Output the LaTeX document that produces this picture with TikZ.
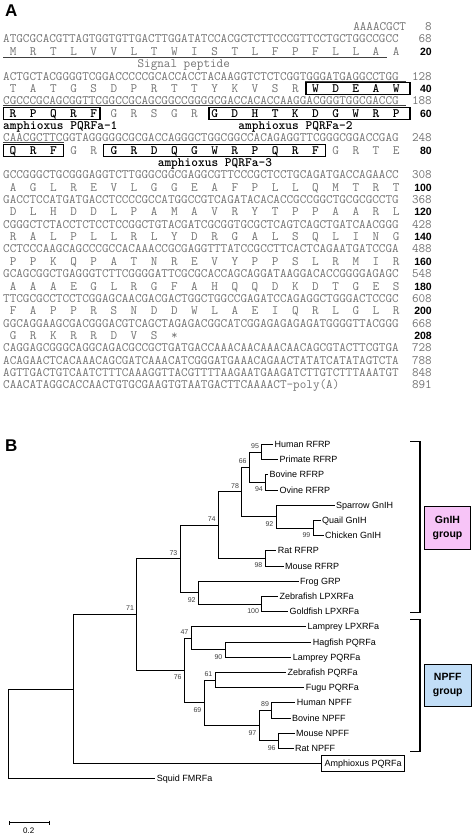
\documentclass[tikz,border=0pt]{standalone}
\usepackage{fontspec}
\setsansfont{Liberation Sans}
\usepackage{tikz}
\usetikzlibrary{arrows.meta, positioning}

\definecolor{ntgray}{gray}{0.45}
\definecolor{gnihpink}{RGB}{247,196,247}
\definecolor{npffblue}{RGB}{194,222,247}

\newcommand{\seqfont}{\ttfamily\fontsize{12.8}{14}\selectfont}
\newcommand{\leaffont}{\sffamily\fontsize{9}{10}\selectfont}
\newcommand{\bootfont}{\sffamily\fontsize{7}{8}\selectfont}

\tikzset{
  seq/.style     = {font=\seqfont, text=ntgray, inner sep=0pt,
                    text height=7.3pt, text depth=0pt},
  nt/.style      = {seq, anchor=west},
  ntnum/.style   = {seq, anchor=east},
  aa/.style      = {seq},
  pep/.style     = {seq, text=black, font=\seqfont\bfseries},
  aanum/.style   = {font=\sffamily\bfseries\fontsize{10.5}{12}\selectfont,
                    anchor=east, inner sep=0pt, text height=7.3pt, text depth=0pt},
  peplbl/.style  = {pep, anchor=west},
  pepbox/.style  = {draw=black, line width=1.3pt},
  uline/.style   = {draw=black!75, line width=0.7pt},
  panel/.style   = {font=\sffamily\bfseries\fontsize{17}{20}\selectfont,
                    anchor=north west, inner sep=0pt},
  leaf/.style    = {font=\leaffont, anchor=west, inner xsep=1.5pt, inner ysep=0pt,
                    text height=6.5pt, text depth=0pt},
  leafbox/.style = {leaf, draw, line width=1.1pt, inner xsep=3.3pt,
                    minimum height=15.3pt},
  boot/.style    = {font=\bootfont, text=black!75, inner sep=1pt},
  branch/.style  = {draw=black, line width=0.8pt},
  bracket/.style = {draw=black, line width=1.1pt},
  grpbox/.style  = {draw=black, line width=0.9pt, align=center,
                    font=\sffamily\bfseries\fontsize{10.5}{14}\selectfont},
  scalebar/.style= {{Bar[width=4pt]}-{Bar[width=4pt]}, line width=0.8pt},
}

\begin{document}
\begin{tikzpicture}[x=1pt, y=-1pt]
  \useasboundingbox (0,0) rectangle (474,837);

  % ---------- A: cDNA and deduced precursor --------------------------
  \node[panel] (pA) at (5,5) {A};

  \node[seq, anchor=east] (nt0) at (406.2,27) {AAAACGCT};
  \node[ntnum] (ntn0) at (432,27) {8};
  \foreach \k/\sq/\num in {
    1/ATGCGCACGTTAGTGGTGTTGACTTGGATATCCACGCTCTTCCCGTTCCTGCTGGCCGCC/68,
    4/ACTGCTACGGGGTCGGACCCCCGCACCACCTACAAGGTCTCTCGGTGGGATGAGGCCTGG/128,
    6/CGCCCGCAGCGGTTCGGCCGCAGCGGCCGGGGCGACCACACCAAGGACGGGTGGCGACCG/188,
    9/CAACGCTTCGGTAGGGGGCGCGACCAGGGCTGGCGGCCACAGAGGTTCGGGCGGACCGAG/248,
    12/GCCGGGCTGCGGGAGGTCTTGGGCGGCGAGGCGTTCCCGCTCCTGCAGATGACCAGAACC/308,
    14/GACCTCCATGATGACCTCCCCGCCATGGCCGTCAGATACACACCGCCGGCTGCGCGCCTG/368,
    16/CGGGCTCTACCTCTCCTCCGGCTGTACGATCGCGGTGCGCTCAGTCAGCTGATCAACGGG/428,
    18/CCTCCCAAGCAGCCCGCCACAAACCGCGAGGTTTATCCGCCTTCACTCAGAATGATCCGA/488,
    20/GCAGCGGCTGAGGGTCTTCGGGGATTCGCGCACCAGCAGGATAAGGACACCGGGGAGAGC/548,
    22/TTCGCGCCTCCTCGGAGCAACGACGACTGGCTGGCCGAGATCCAGAGGCTGGGACTCCGC/608,
    24/GGCAGGAAGCGACGGGACGTCAGCTAGAGACGGCATCGGAGAGAGAGATGGGGTTACGGG/668,
    26/CAGGAGCGGGCAGGCAGACGCCGCTGATGACCAAACAACAAACAACAGCGTACTTCGTGA/728,
    27/ACAGAACTCACAAACAGCGATCAAACATCGGGATGAAACAGAACTATATCATATAGTCTA/788,
    28/AGTTGACTGTCAATCTTTCAAAGGTTACGTTTTAAGAATGAAGATCTTGTCTTTAAATGT/848,
    29/CAACATAGGCACCAACTGTGCGAAGTGTAATGACTTCAAAACT-poly(A)/891} {
    \pgfmathsetmacro\yy{27+12.35*\k}
    \node[nt] (nt\k) at (3,\yy) {\sq};
    \node[ntnum] (ntn\k) at (432,\yy) {\num};
  }

  % amino acids, one under the middle of each codon
  \foreach \k/\num/\bA/\eA/\bB/\eB/\res in {
    2/20/-1/-1/-1/-1/{M,R,T,L,V,V,L,T,W,I,S,T,L,F,P,F,L,L,A,A},
    5/40/15/19/-1/-1/{T,A,T,G,S,D,P,R,T,T,Y,K,V,S,R,W,D,E,A,W},
    7/60/0/4/10/19/{R,P,Q,R,F,G,R,S,G,R,G,D,H,T,K,D,G,W,R,P},
    10/80/0/2/5/15/{Q,R,F,G,R,G,R,D,Q,G,W,R,P,Q,R,F,G,R,T,E},
    13/100/-1/-1/-1/-1/{A,G,L,R,E,V,L,G,G,E,A,F,P,L,L,Q,M,T,R,T},
    15/120/-1/-1/-1/-1/{D,L,H,D,D,L,P,A,M,A,V,R,Y,T,P,P,A,A,R,L},
    17/140/-1/-1/-1/-1/{R,A,L,P,L,L,R,L,Y,D,R,G,A,L,S,Q,L,I,N,G},
    19/160/-1/-1/-1/-1/{P,P,K,Q,P,A,T,N,R,E,V,Y,P,P,S,L,R,M,I,R},
    21/180/-1/-1/-1/-1/{A,A,A,E,G,L,R,G,F,A,H,Q,Q,D,K,D,T,G,E,S},
    23/200/-1/-1/-1/-1/{F,A,P,P,R,S,N,D,D,W,L,A,E,I,Q,R,L,G,L,R},
    25/208/-1/-1/-1/-1/{G,R,K,R,R,D,V,S,*}} {
    \pgfmathsetmacro\yy{27+12.35*\k}
    \foreach \r [count=\i from 0] in \res {
      \pgfmathtruncatemacro\isb{((\i>=\bA)&&(\i<=\eA))||((\i>=\bB)&&(\i<=\eB))}
      \ifnum\isb=1 \def\st{pep}\else\def\st{aa}\fi
      \node[\st] (a\k-\i) at ({3+(3*\i+1.5)*6.72},\yy) {\r};
    }
    \node[aanum] (aan\k) at (432,\yy) {\num};
  }

  % signal peptide
  \draw[uline] (3,57.7) -- (386.5,57.7);
  \node[seq, anchor=west] (sigpep) at (137.4,64) {Signal peptide};

  % underlined cDNA stretch
  \draw[uline] (305.4,81.2) -- (406.2,81.2);
  \draw[uline] (3,105.7) -- (406.2,105.7);
  \draw[uline] (3,142.7) -- (63.5,142.7);

  % peptide boxes
  \draw[pepbox] (306,82.8) rectangle (410,94.8);
  \draw[pepbox] (3.3,107.5) rectangle (100,119.5);
  \draw[pepbox] (209,107.5) rectangle (410,119.5);
  \draw[pepbox] (3.3,144.5) rectangle (63.5,156.5);
  \draw[pepbox] (103.5,144.5) rectangle (325.5,156.5);

  \node[peplbl] (pqrf1) at (3,125.8) {amphioxus PQRFa-1};
  \node[peplbl] (pqrf2) at (238.2,125.8) {amphioxus PQRFa-2};
  \node[peplbl] (pqrf3) at (157.6,163) {amphioxus PQRFa-3};

  % ---------- B: neighbour-joining tree ------------------------------
  \node[panel] (pB) at (5,440) {B};

  \foreach \nm/\lbl/\x/\st [count=\i from 0] in {
    hRFRP/Human RFRP/272.8/leaf, pRFRP/Primate RFRP/277.8/leaf,
    bRFRP/Bovine RFRP/267.8/leaf, oRFRP/Ovine RFRP/277.8/leaf,
    sGnIH/Sparrow GnIH/334.5/leaf, qGnIH/Quail GnIH/320.5/leaf,
    cGnIH/Chicken GnIH/323.5/leaf, rRFRP/Rat RFRP/276.2/leaf,
    mRFRP/Mouse RFRP/283.5/leaf, frGRP/Frog GRP/298.5/leaf,
    zLPX/Zebrafish LPXRFa/277.8/leaf, gLPX/Goldfish LPXRFa/287.8/leaf,
    lLPX/Lamprey LPXRFa/305.8/leaf, hPQ/Hagfish PQRFa/311.2/leaf,
    lPQ/Lamprey PQRFa/291.2/leaf, zPQ/Zebrafish PQRFa/285.8/leaf,
    fPQ/Fugu PQRFa/304.2/leaf, hNPFF/Human NPFF/295.2/leaf,
    bNPFF/Bovine NPFF/290.5/leaf, mNPFF/Mouse NPFF/294.5/leaf,
    rNPFF/Rat NPFF/293.5/leaf, aPQ/Amphioxus PQRFa/320.7/leafbox,
    sFMRF/Squid FMRFa/155.2/leaf} {
    \node[\st] (\nm) at (\x,{444.3+15.2*\i}) {\lbl};
  }

  % internal nodes (x of split, y of incoming branch)
  \coordinate (n95)  at (261.7,451.9);
  \coordinate (n94)  at (265.5,482.3);
  \coordinate (n66)  at (249.3,467.1);
  \coordinate (n99)  at (313.0,527.9);
  \coordinate (n92a) at (276.0,516.5);
  \coordinate (n78)  at (241.7,491.8);
  \coordinate (n98)  at (265.0,558.3);
  \coordinate (n74)  at (218.3,525.0);
  \coordinate (n100) at (261.7,603.9);
  \coordinate (n92b) at (198.3,592.5);
  \coordinate (n73)  at (180.0,558.8);
  \coordinate (n90)  at (225.0,649.5);
  \coordinate (n47)  at (191.0,638.1);
  \coordinate (n61)  at (215.0,679.9);
  \coordinate (n89)  at (271.7,710.3);
  \coordinate (n96)  at (278.3,740.7);
  \coordinate (n97)  at (259.0,725.5);
  \coordinate (n69)  at (204.0,702.7);
  \coordinate (n76)  at (184.3,670.4);
  \coordinate (n71)  at (136.7,614.6);
  \coordinate (nA)   at (73.3,689.0);
  \coordinate (root) at (8.3,733.9);

  \foreach \p/\c in {n95/hRFRP, n95/pRFRP, n94/bRFRP, n94/oRFRP, n66/n95, n66/n94,
                     n99/qGnIH, n99/cGnIH, n92a/sGnIH, n92a/n99, n78/n66, n78/n92a,
                     n98/rRFRP, n98/mRFRP, n74/n78, n74/n98, n100/zLPX, n100/gLPX,
                     n92b/frGRP, n92b/n100, n73/n74, n73/n92b, n90/hPQ, n90/lPQ,
                     n47/lLPX, n47/n90, n61/zPQ, n61/fPQ, n89/hNPFF, n89/bNPFF,
                     n96/mNPFF, n96/rNPFF, n97/n89, n97/n96, n69/n61, n69/n97,
                     n76/n47, n76/n69, n71/n73, n71/n76, nA/n71, nA/aPQ,
                     root/nA, root/sFMRF}
    \draw[branch] (\p) |- (\c);

  % bootstrap values
  \foreach \n/\v in {n95/95, n66/66, n78/78, n74/74, n73/73, n71/71, n47/47, n61/61, n89/89}
    \node[boot, above left=2.5pt and 1.5pt of \n] (bs-\n) {\v};
  \foreach \n/\v in {n94/94, n92a/92, n99/99, n98/98, n92b/92, n100/100, n90/90,
                     n76/76, n69/69, n97/97, n96/96}
    \node[boot, below left=3.5pt and 1.5pt of \n] (bs-\n) {\v};

  % ---------- group brackets -----------------------------------------
  \draw[bracket] (410,441.7) -| (420,612.7) -- (410,612.7);
  \draw[bracket] (410,619.3) -| (420,751.7) -- (410,751.7);
  \node[grpbox, fill=gnihpink, minimum width=46.4pt, minimum height=43pt]
    (gnih) at (447.5,527.5) {GnIH\\group};
  \node[grpbox, fill=npffblue, minimum width=46.7pt, minimum height=42pt]
    (npff) at (447.7,685) {NPFF\\group};

  % scale bar
  \coordinate (sbL) at (9.3,822.7);
  \coordinate (sbR) at (49.3,822.7);
  \draw[scalebar] (sbL) -- (sbR);
  \node[font=\sffamily\fontsize{8}{9}\selectfont, inner sep=0pt] (sbtxt) at (28.8,831) {0.2};
\end{tikzpicture}
\end{document}
